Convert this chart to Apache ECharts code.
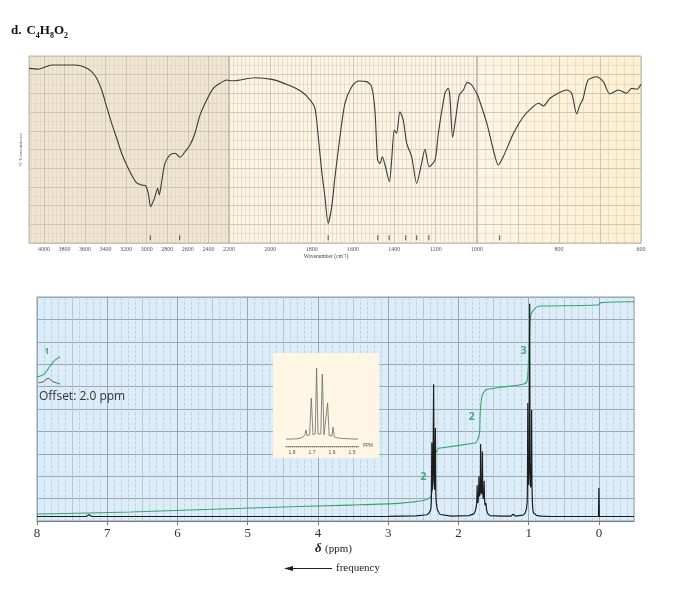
<!DOCTYPE html>
<html><head><meta charset="utf-8">
<script src="https://cdn.jsdelivr.net/npm/echarts@6/dist/echarts.min.js"></script>
<style>html,body{margin:0;padding:0;background:#fff}#c{width:700px;height:596px}</style>
</head><body><div id="c"></div>
<script>
// ---------- IR spectrum (wavenumber cm-1, % transmittance) ----------
const irWavenumbers = [4145,4055,3925,3698,3601,3536,3487,3438,3390,3341,
 3292,3244,3195,3147,3098,3049,3010,2985,2962,2942,
 2920,2894,2878,2855,2823,2774,2725,2677,2628,2579,
 2531,2482,2417,2353,2288,2222,2200,2179,2074,1993,
 1913,1848,1808,1784,1768,1752,1736,1720,1703,1687,
 1663,1639,1606,1574,1534,1510,1494,1481,1469,1458,
 1445,1424,1413,1400,1389,1373,1357,1340,1316,1292,
 1268,1252,1231,1203,1187,1155,1139,1131,1118,1102,
 1086,1066,1047,1026,1000,997,976,960,948,936,
 911,887,863,850,838,822,802,781,769,757,
 749,741,729,708,692,676,655,635,623,610,600];
const irTransmittance = [93.4,93.0,95.2,95.2,94.0,91.6,88.1,81.8,72.9,64.0,
 56.0,48.0,41.7,36.4,32.2,31.0,30.5,26.6,19.4,21.6,
 24.8,29.3,25.7,32.8,42.6,47.1,48.0,45.8,48.8,52.4,
 58.7,68.4,76.5,82.7,85.4,87.2,86.9,86.8,88.4,87.5,
 84.5,80.9,76.5,72.0,56.8,39.0,24.8,10.5,19.4,35.5,
 56.8,74.7,83.6,86.6,86.3,83.6,71.1,44.4,42.6,46.1,
 41.7,32.8,44.4,60.4,58.7,70.2,65.8,53.3,46.1,31.9,
 42.6,50.1,40.8,44.4,58.7,80.1,82.7,78.2,56.5,67.5,
 79.1,81.8,85.9,84.5,79.7,78.2,64.0,49.7,41.7,46.1,
 58.7,67.5,72.9,74.7,73.3,77.4,80.1,81.8,80.1,69.0,
 73.8,77.4,87.2,88.9,86.3,79.7,81.8,80.1,82.7,82.2,84.9];
const irPeakMarks = [2965, 2680, 1720, 1480, 1425, 1345, 1292, 1233, 945];
const irPeakMarkLevel = 2.8;

// ---------- 1H NMR spectrum (ppm, intensity) ----------
const nmrPpm = [8.0,7.3,7.26,7.22,6.0,5.0,4.0,3.0,2.6,2.45,2.42,2.40,2.39,
 2.385,2.378,2.374,2.370,2.362,2.353,2.345,2.338,2.333,2.328,2.322,2.315,2.30,2.28,2.26,2.1,1.85,1.78,1.76,1.745,
 1.738,1.733,1.729,1.722,1.713,1.708,1.703,1.697,1.688,1.683,1.679,1.672,1.663,1.658,1.654,1.647,1.638,1.633,1.629,1.622,1.613,1.608,1.603,1.595,
 1.585,1.57,1.55,1.4,1.25,1.22,1.19,1.08,1.05,1.03,1.02,
 1.017,1.012,1.006,0.998,0.990,0.985,0.980,0.972,0.963,0.958,0.953,0.946,0.94,0.93,0.91,0.88,0.82,0.7,0.006,0.0,-0.006,-0.5];
const nmrIntensity = [2,2,2.8,2,2,2,2,2.1,2.3,2.8,3.5,4.5,6,
 9,35,16,14,22,61,18,14,20,41.5,12,8,5,3.8,2.9,2.2,2.4,3.2,4.5,6.5,
 9,16,9,8,12,20,12,11,15,34.4,15,12,15,31,13,10,11,18,10,7,6.5,8,6,4.5,
 3.4,2.8,2.4,2.2,2.2,3,2.2,2.6,3.5,5.5,9,
 18,52.7,20,16,28,97,26,15,18,49.5,16,8,5,3.6,2.8,2.4,2.2,2,2,14.7,2,2];
const integralPpm = [8.0,6.67,4.96,3.54,2.82,2.47,2.40,2.37,2.35,2.325,2.28,2.254,1.78,1.75,1.73,1.70,1.69,1.66,1.61,1.59,1.40,1.066,1.02,0.995,0.97,0.923,0.875,0.827,0.02,-0.03,-0.5];
const integralValue = [3.1,4.0,5.8,7.1,8.0,9.4,10.7,14,28.7,30.4,32.5,32.6,34.7,35,36.2,39,48,56.3,58.5,58.8,59.7,61.2,62.9,77.8,92,94.5,95.7,96.0,96.4,97.5,97.9];
const integralLabels = ['2','2','3'];
const integralLabelPpm = [2.50, 1.81, 1.07];
const integralLabelY = [19.6, 46.4, 75.9];
// offset region legend (top-left)
const offsetIntegralPpm = [8.0,7.90,7.815,7.74,7.67];
const offsetIntegralValue = [64.3,65.6,69.2,71.9,73.2];
const offsetPeakPpm = [7.98,7.91,7.84,7.77,7.67];
const offsetPeakValue = [61.7,62.2,63.7,62.2,61.2];
const offsetLabel = ['1'];
const offsetLabelPos = [7.86, 75.5];
const nmrTicks = [0,1,2,3,4,5,6,7,8];

// ---------- inset (expanded sextet) ----------
const insetPpm = [1.83,1.78,1.76,1.745,1.735,1.730,1.725,1.712,1.7035,1.695,1.684,1.677,1.67,1.656,1.6485,1.64,1.630,1.622,1.614,1.600,1.595,1.588,1.575,1.55,1.50,1.47];
const insetIntensity = [8,8.3,9,10.5,13,18.6,12,13,55.8,13,14,90.7,14,14,83.7,13,13,50,12,12,22,10.5,9.5,8.8,8.2,8];
const insetTicks = [1.5,1.6,1.7,1.8];
const insetMinorTicks = [];
for (let k = 147; k <= 183; k++) insetMinorTicks.push(k / 100);

// ---------- build ----------
function irSegment(lo, hi) {
  const out = [];
  irWavenumbers.forEach((w, i) => { if (w >= lo && w <= hi) out.push([w, irTransmittance[i]]); });
  return out;
}
function marksIn(lo, hi) {
  return irPeakMarks.filter(w => w >= lo && w <= hi).map(w => [w, irPeakMarkLevel]);
}
const zip = (a, b) => a.map((v, i) => [v, b[i]]);

const serif = 'Liberation Serif';
const irGridLine = '#c4bcae', irMinor = '#d8d0c2';
const irLabel = (extra) => Object.assign({fontSize: 6, color: '#555', fontFamily: serif, margin: 3, formatter: v => String(v)}, extra || {});
function irX(idx, min, max, interval, minor, extra) {
  return Object.assign({
    gridIndex: idx, type: 'value', inverse: true, min, max, interval,
    axisLine: {show: false}, axisTick: {show: false},
    axisLabel: irLabel(),
    splitLine: {show: true, lineStyle: {color: irGridLine, width: 0.8}},
    minorTick: {show: false, splitNumber: minor},
    minorSplitLine: {show: true, lineStyle: {color: irMinor, width: 0.6}}
  }, extra || {});
}
function irY(idx, extra) {
  return Object.assign({
    gridIndex: idx, type: 'value', min: 0, max: 100, interval: 10,
    axisLine: {show: false}, axisTick: {show: false}, axisLabel: {show: false},
    splitLine: {show: true, lineStyle: {color: irGridLine, width: 0.8}},
    minorTick: {show: false, splitNumber: 2},
    minorSplitLine: {show: true, lineStyle: {color: irMinor, width: 0.6}}
  }, extra || {});
}
const irLine = (i, data) => ({type: 'line', xAxisIndex: i, yAxisIndex: i, data, showSymbol: false, smooth: 0.25,
  lineStyle: {color: '#3a3a3a', width: 1.1}, z: 3, silent: true});
const irMarks = (i, data) => ({type: 'scatter', xAxisIndex: i, yAxisIndex: i, data, symbol: 'rect', symbolSize: [1.2, 5],
  itemStyle: {color: '#444'}, z: 3, silent: true});

const green = '#34a56a';
const option = {
  animation: false,
  title: {
    text: '{b|d.} {n|C}{s|4}{n|H}{s|8}{n|O}{s|2}', left: 6, top: 14,
    textStyle: {rich: {
      b: {fontFamily: serif, fontWeight: 'bold', fontSize: 13, color: '#111', lineHeight: 16, verticalAlign: 'bottom'},
      n: {fontFamily: serif, fontSize: 13, color: '#111', lineHeight: 16, verticalAlign: 'bottom'},
      s: {fontFamily: serif, fontSize: 8, color: '#111', lineHeight: 12, verticalAlign: 'bottom', padding: [0,0,-3,0]}
    }}
  },
  grid: [
    {left: 29, top: 56, width: 200, height: 187, show: true, backgroundColor: '#f0e6cf', borderColor: '#bdb5a8', borderWidth: 1},
    {left: 229, top: 56, width: 248, height: 187, show: true, backgroundColor: '#fcf4e3', borderColor: '#bdb5a8', borderWidth: 1},
    {left: 477, top: 56, width: 164, height: 187, show: true, borderColor: '#bdb5a8', borderWidth: 1,
      backgroundColor: {type: 'linear', x: 0, y: 0, x2: 1, y2: 0, colorStops: [{offset: 0, color: '#fdf5e3'}, {offset: 1, color: '#fdf0cf'}]}},
    {left: 37, top: 297, width: 597, height: 224, show: true, backgroundColor: '#dcedf9', borderColor: '#8e9aa3', borderWidth: 1},
    {left: 273, top: 353, width: 106, height: 105, show: true, backgroundColor: '#fdf6e4', borderWidth: 0, z: 3},
    {left: 286, top: 360, width: 72, height: 86, show: false, z: 4}
  ],
  xAxis: [
    irX(0, 2200, 4145, 200, 5, {axisLabel: irLabel({showMaxLabel: false, showMinLabel: true})}),
    irX(1, 1000, 2200, 200, 10, {axisLabel: irLabel({showMaxLabel: false, showMinLabel: false})}),
    irX(2, 600, 1000, 100, 5, {axisLabel: irLabel({formatter: v => (v % 200 === 0 ? String(v) : '')})}),
    {gridIndex: 3, type: 'value', inverse: true, min: -0.5, max: 8, position: 'bottom',
      axisLine: {show: true, lineStyle: {color: '#6f7a82', width: 1}},
      axisTick: {show: true, customValues: nmrTicks, length: 4, lineStyle: {color: '#6f7a82'}},
      axisLabel: {customValues: nmrTicks, fontFamily: serif, fontSize: 13, color: '#333', margin: 6},
      splitLine: {show: false}},
    {gridIndex: 3, type: 'value', inverse: true, min: -0.5, max: 8, interval: 0.5, position: 'top',
      axisLine: {show: false}, axisTick: {show: false}, axisLabel: {show: false},
      splitLine: {show: true, lineStyle: {color: ['#b3c6d4', '#97a8b4'], width: 1}},
      minorTick: {show: false, splitNumber: 5},
      minorSplitLine: {show: true, lineStyle: {color: '#b4cadb', type: 'dashed', width: 0.8}}},
    {gridIndex: 4, type: 'value', show: false, min: 0, max: 1},
    {gridIndex: 5, type: 'value', inverse: true, min: 1.47, max: 1.83, z: 4,
      axisLine: {show: true, lineStyle: {color: '#777', width: 0.8}},
      axisTick: {show: true, customValues: insetMinorTicks, length: 2, lineStyle: {color: '#888', width: 0.6}},
      axisLabel: {customValues: insetTicks, fontSize: 5, color: '#555', fontFamily: 'Liberation Sans', margin: 4},
      splitLine: {show: false},
      name: 'PPM', nameLocation: 'start', nameGap: 5, nameTextStyle: {fontSize: 4.5, color: '#555', fontFamily: 'Liberation Sans', padding: [9, 0, 0, 0]}}
  ],
  yAxis: [
    irY(0, {name: '% Transmittance', nameLocation: 'middle', nameGap: 6, nameRotate: 90,
      nameTextStyle: {fontSize: 5, color: '#666', fontFamily: serif}}),
    irY(1), irY(2),
    {gridIndex: 3, type: 'value', min: 0, max: 100, interval: 10,
      axisLine: {show: false}, axisTick: {show: false}, axisLabel: {show: false},
      splitLine: {show: true, lineStyle: {color: '#98a9b5', width: 1}}},
    {gridIndex: 4, type: 'value', show: false, min: 0, max: 1},
    {gridIndex: 5, type: 'value', show: false, min: 0, max: 100}
  ],
  series: [
    irLine(0, irSegment(2200, 5000)),
    irLine(1, irSegment(1000, 2200)),
    irLine(2, irSegment(0, 1000)),
    irMarks(0, marksIn(2200, 5000)),
    irMarks(1, marksIn(1000, 2200)),
    irMarks(2, marksIn(0, 1000)),
    {type: 'line', xAxisIndex: 3, yAxisIndex: 3, data: zip(integralPpm, integralValue), showSymbol: false, smooth: 0.3,
      lineStyle: {color: green, width: 1.1}, z: 3, silent: true},
    {type: 'line', xAxisIndex: 3, yAxisIndex: 3, data: zip(nmrPpm, nmrIntensity), showSymbol: false,
      lineStyle: {color: '#1c1c1c', width: 1.2}, z: 4, silent: true},
    {type: 'line', xAxisIndex: 3, yAxisIndex: 3, data: zip(offsetIntegralPpm, offsetIntegralValue), showSymbol: false, smooth: 0.4,
      lineStyle: {color: green, width: 1.1}, z: 3, silent: true},
    {type: 'line', xAxisIndex: 3, yAxisIndex: 3, data: zip(offsetPeakPpm, offsetPeakValue), showSymbol: false, smooth: 0.3,
      lineStyle: {color: '#555', width: 1}, z: 3, silent: true},
    {type: 'scatter', xAxisIndex: 3, yAxisIndex: 3, symbolSize: 0, z: 5, silent: true,
      data: integralLabels.map((t, i) => [integralLabelPpm[i], integralLabelY[i], t]),
      label: {show: true, position: 'inside', formatter: p => p.data[2], color: '#2c9a5c', fontWeight: 'bold', fontSize: 11, fontFamily: 'Open Sans'}},
    {type: 'scatter', xAxisIndex: 3, yAxisIndex: 3, symbolSize: 0, z: 5, silent: true,
      data: offsetLabel.map(t => [offsetLabelPos[0], offsetLabelPos[1], t]),
      label: {show: true, position: 'inside', formatter: p => p.data[2], color: '#2c9a5c', fontWeight: 'bold', fontSize: 9, fontFamily: 'Open Sans'}},
    {type: 'line', xAxisIndex: 6, yAxisIndex: 5, data: zip(insetPpm, insetIntensity), showSymbol: false,
      lineStyle: {color: '#6a6a6a', width: 0.8}, z: 6, silent: true}
  ],
  graphic: [
    {type: 'text', x: 326, y: 257, style: {text: 'Wavenumber (cm\u207B\u00B9)', font: '5.5px "Liberation Serif"', fill: '#444', align: 'center', verticalAlign: 'middle'}},
    {type: 'text', x: 39, y: 397, style: {text: 'Offset: 2.0 ppm', font: '12px "Open Sans"', fill: '#333', verticalAlign: 'middle'}, z: 10},
    {type: 'text', x: 315, y: 549, style: {text: '{d|\u03B4} {p|(ppm)}', verticalAlign: 'middle',
      rich: {d: {fontFamily: serif, fontStyle: 'italic', fontWeight: 'bold', fontSize: 13, fill: '#222'}, p: {fontFamily: serif, fontSize: 11, fill: '#222'}}}},
    {type: 'text', x: 336, y: 568, style: {text: 'frequency', font: '11px "Liberation Serif"', fill: '#222', verticalAlign: 'middle'}},
    {type: 'line', shape: {x1: 291, y1: 568.5, x2: 332, y2: 568.5}, style: {stroke: '#222', lineWidth: 1}},
    {type: 'polygon', shape: {points: [[284, 568.5], [293, 566], [293, 571]]}, style: {fill: '#222'}}
  ]
};
const chart = echarts.init(document.getElementById('c'), null, {renderer: 'canvas'});
chart.setOption(option);
</script>
</body></html>
